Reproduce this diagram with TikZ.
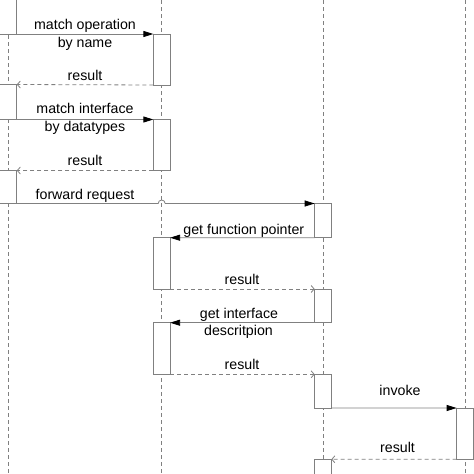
\documentclass[tikz,border=0pt]{standalone}
\usepackage{fontspec}
\setmainfont{Liberation Sans}
\usetikzlibrary{arrows.meta}
\definecolor{linegray}{HTML}{808080}
\begin{document}
\begin{tikzpicture}[x=1pt,y=1pt,
  life/.style={draw=linegray, dash pattern=on 4pt off 3pt, line width=0.7pt},
  actbox/.style={rectangle, draw=linegray, fill=white, line width=0.8pt, minimum width=16.7pt, inner sep=0pt, outer sep=0pt},
  edgebox/.style={actbox, minimum width=18pt},
  call/.style={draw=linegray, line width=0.8pt, -{Triangle[length=10pt,width=6pt,color=black,fill=black]}},
  ret/.style={draw=linegray, line width=0.8pt, dash pattern=on 4pt off 3pt, -{Straight Barb[length=3pt,width=7pt]}},
  lbl/.style={font=\fontsize{14.2}{17}\selectfont, anchor=base, inner sep=0pt}]
\useasboundingbox (0,0) rectangle (474,-474);
\clip (0,0) rectangle (474,-474);
% lifelines
\coordinate (l1t) at (8,0);     \coordinate (l1b) at (8,-474);
\coordinate (l2t) at (161.7,0); \coordinate (l2b) at (161.7,-474);
\coordinate (l3t) at (323,0);   \coordinate (l3b) at (323,-474);
\coordinate (l4t) at (465,0);   \coordinate (l4b) at (465,-474);
\draw[life] (l1t) -- (l1b);
\draw[life] (l2t) -- (l2b);
\draw[life] (l3t) -- (l3b);
\draw[life] (l4t) -- (l4b);
% activation boxes
\node[edgebox, minimum height=44pt]   (P1) at (7.8,-12) {};
\node[edgebox, minimum height=35pt]   (P2) at (7.8,-102) {};
\node[edgebox, minimum height=33pt]   (P3) at (7.8,-187) {};
\node[actbox, minimum height=51pt]   (A)  at (161.7,-59.5) {};
\node[actbox, minimum height=51pt]   (B)  at (161.7,-145) {};
\node[actbox, minimum height=51.3pt] (C)  at (161.7,-263.35) {};
\node[actbox, minimum height=51.6pt] (D)  at (161.7,-348.5) {};
\node[actbox, minimum height=34.2pt] (E)  at (323,-220.6) {};
\node[actbox, minimum height=33.7pt] (F)  at (323,-305.85) {};
\node[actbox, minimum height=33.7pt] (G)  at (323,-391.15) {};
\node[actbox, minimum height=40pt]   (H)  at (323,-479.3) {};
\node[actbox, minimum height=51.3pt] (K)  at (465,-433.65) {};
% messages
\draw[call] (P1.south east) -- (A.north west);
\draw[ret]  (A.south west) -- (P2.north east);
\draw[call] (P2.south east) -- (B.north west);
\draw[ret]  (B.south west) -- (P3.north east);
\coordinate (hop) at (158.2,-203.5);
\draw[call] (P3.south east) -- (hop) arc[start angle=180,end angle=0,radius=3.5] -- (E.north west);
\draw[call] (E.south west) -- (C.north east);
\draw[ret]  (C.south east) -- (F.north west);
\draw[call] (F.south west) -- (D.north east);
\draw[ret]  (D.south east) -- (G.north west);
\draw[call] (G.south east) -- (K.north west);
\draw[ret]  (K.south west) -- (H.north east);
% labels
\node[lbl] (t1a) at (85,-29.3) {match operation};
\node[lbl] (t1b) at (85,-47) {by name};
\node[lbl] (t2)  at (85,-80.5) {result};
\node[lbl] (t3a) at (85,-113.3) {match interface};
\node[lbl] (t3b) at (85,-131) {by datatypes};
\node[lbl] (t4)  at (85,-165.5) {result};
\node[lbl] (t5)  at (85,-199) {forward request};
\node[lbl] (t6)  at (243.8,-234) {get function pointer};
\node[lbl] (t7)  at (242,-284.5) {result};
\node[lbl] (t8a) at (239,-318.5) {get interface};
\node[lbl] (t8b) at (238.5,-335.7) {descritpion};
\node[lbl] (t9)  at (242,-369.5) {result};
\node[lbl] (t10) at (400,-395.7) {invoke};
\node[lbl] (t11) at (397.5,-452) {result};
\end{tikzpicture}
\end{document}
